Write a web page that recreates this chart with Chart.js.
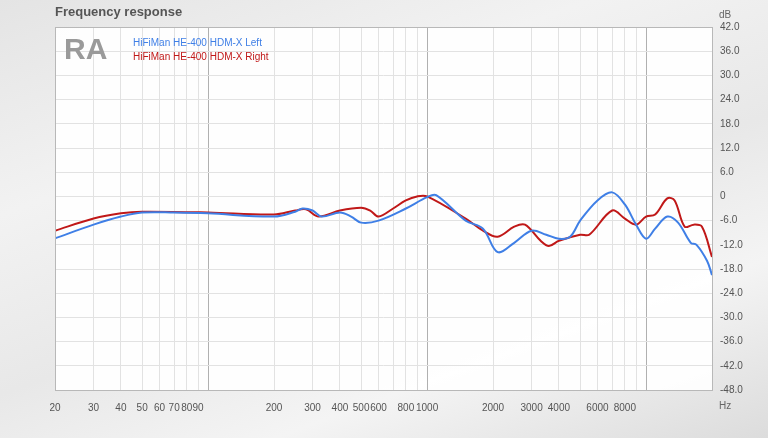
<!DOCTYPE html>
<html><head><meta charset="utf-8">
<script src="https://cdn.jsdelivr.net/npm/chart.js@4"></script>
<style>
html,body{margin:0;padding:0;}
body{width:768px;height:438px;background:linear-gradient(160deg,#e4e4e4 0%,#f2f2f2 30%,#e8e8e8 55%,#f4f4f4 75%,#dcdcdc 100%);}
#c{display:block;}
</style></head><body>
<canvas id="c" width="768" height="438"></canvas>
<script>
const leftFreq=[20,30,40,50,70,100,200,250,270,300,330,400,450,500,600,800,1000,1100,1500,1800,2100,2500,3000,3500,4000,4500,5000,6000,7000,8000,9000,10000,11000,12500,14000,16000,17000,19000,20000];
const leftDb=[-10.4,-7,-5,-4,-4,-4.2,-5,-3.8,-3,-3.5,-5,-4,-5,-6.5,-6,-3,-0.2,0.3,-6,-8,-13.8,-11.5,-8.5,-9.5,-10.5,-10,-6,-1,1,-2,-7,-10.5,-8,-5,-6.5,-11.5,-12,-16,-19.5];
const rightFreq=[20,30,40,50,100,200,250,280,320,400,500,550,600,700,800,900,1000,1500,1800,2100,2500,2800,3300,3600,4000,5000,5500,7000,8000,9000,10000,11000,12500,13500,15000,16500,18000,20000];
const rightDb=[-8.5,-5.5,-4.2,-3.8,-4,-4.5,-3.5,-3.2,-5,-3.5,-2.8,-3.5,-5,-3,-1,0,0,-5.5,-8.5,-10,-7.5,-7,-11,-12.3,-11,-9.5,-9.5,-3.5,-5.5,-7,-5,-4.5,-0.5,-1,-7.5,-7,-7.5,-15];
const xLabels=[20,30,40,50,60,70,80,90,200,300,400,500,600,800,1000,2000,3000,4000,6000,8000];
const yTicks=[-48,-42,-36,-30,-24,-18,-12,-6,0,6,12,18,24,30,36,42];
const seriesNames=['HiFiMan HE-400 HDM-X Left','HiFiMan HE-400 HDM-X Right'];
const colors=['#3f7fe6','#c01818'];

const gridVals=[];
for(const d of [10,100,1000,10000]) for(let m=1;m<10;m++){const v=m*d; if(v>=20&&v<=20000) gridVals.push(v);}
gridVals.push(20000);

const deco={id:'deco',
 beforeDraw(c){const {ctx,chartArea:a}=c;ctx.save();ctx.fillStyle='rgba(255,255,255,0.92)';ctx.fillRect(a.left,a.top,a.right-a.left,a.bottom-a.top);ctx.restore();},
 afterDraw(c){const {ctx,chartArea:a}=c;ctx.save();
  ctx.strokeStyle='#b8b8b8';ctx.lineWidth=1;ctx.strokeRect(a.left+0.5,a.top+0.5,a.right-a.left,a.bottom-a.top);
  ctx.fillStyle='#555';ctx.font='bold 13px "Liberation Sans",Arial';ctx.textBaseline='middle';ctx.fillText('Frequency response',55,12);
  ctx.font='10px "Liberation Sans",Arial';ctx.fillStyle='#666';ctx.fillText('dB',719,15);ctx.fillText('Hz',719,406);
  ctx.font='10px "Liberation Sans Narrow","Liberation Sans",Arial';
  ctx.fillStyle=colors[0];ctx.fillText(seriesNames[0],133,43);
  ctx.fillStyle=colors[1];ctx.fillText(seriesNames[1],133,57);
  ctx.font='bold 30px "Liberation Sans Narrow","Liberation Sans",Arial';ctx.fillStyle='#9a9a9a';ctx.fillText('RA',64,51);
  ctx.restore();}
};

new Chart(document.getElementById('c'),{
 type:'line',
 data:{datasets:[
  {label:seriesNames[0],data:leftFreq.map((f,i)=>({x:f,y:leftDb[i]})),borderColor:colors[0],borderWidth:2,pointRadius:0,tension:0.35},
  {label:seriesNames[1],data:rightFreq.map((f,i)=>({x:f,y:rightDb[i]})),borderColor:colors[1],borderWidth:2,pointRadius:0,tension:0.35}
 ]},
 options:{responsive:false,animation:false,
  layout:{padding:{left:55,top:27,right:6,bottom:18}},
  plugins:{legend:{display:false},tooltip:{enabled:false}},
  scales:{
   x:{type:'logarithmic',min:20,max:20000,
    afterBuildTicks(s){s.ticks=gridVals.map(v=>({value:v}));},
    afterFit(s){s.height=30;},
    grid:{color(ctx){const v=ctx.tick&&ctx.tick.value;return (v===100||v===1000||v===10000)?'#b0b0b0':'#e2e2e2';},drawTicks:false},
    border:{display:false},
    ticks:{autoSkip:false,maxRotation:0,padding:12,color:'#555',font:{size:10,family:'"Liberation Sans Narrow","Liberation Sans",Arial'},
     callback(v){return xLabels.includes(v)?String(v):'';}}},
   y:{position:'right',min:-48,max:42,
    afterBuildTicks(s){s.ticks=yTicks.map(v=>({value:v}));},
    afterFit(s){s.width=50;},
    grid:{color:'#e2e2e2',drawTicks:false},border:{display:false},
    ticks:{padding:8,color:'#555',font:{size:10,family:'"Liberation Sans Narrow","Liberation Sans",Arial'},callback(v){return v===0?'0':v.toFixed(1);}}}
  }},
 plugins:[deco]
});
</script></body></html>
